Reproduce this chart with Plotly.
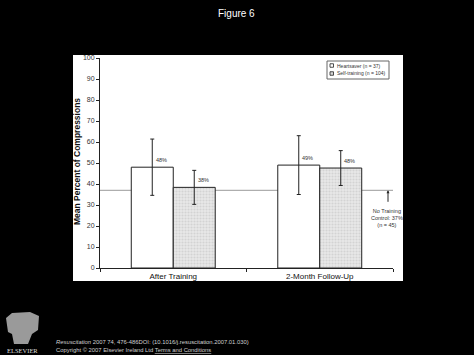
import plotly.graph_objects as go

# ---- data ----
categories = ["After Training", "2-Month Follow-Up"]
series_names = ["Heartsaver (n = 37)", "Self-training (n = 104)"]
heartsaver = [48, 49]
heartsaver_err = [13.4, 14.0]
self_training = [38.4, 47.6]
self_training_err = [8.1, 8.3]
bar_labels_hs = ["48%", "49%"]
bar_labels_st = ["38%", "48%"]
control_value = 37
control_text = "No Training<br>Control: 37%<br>(n = 45)"
y_ticks = list(range(0, 101, 10))

W, H = 474, 355
L, R, T, B = 100, 393, 58, 268  # plot area in pixels


def px(x):
    return (x - L) / (R - L)


def py(y):
    return (B - y) / (B - T)


FONT = "Liberation Sans, Arial, sans-serif"

fig = go.Figure()
fig.add_trace(go.Bar(
    x=categories, y=heartsaver, name=series_names[0],
    marker=dict(color="white", line=dict(color="#222", width=1)),
    error_y=dict(type="data", array=heartsaver_err, color="#222", thickness=1, width=2),
    showlegend=False,
))
fig.add_trace(go.Bar(
    x=categories, y=self_training, name=series_names[1],
    marker=dict(color="#e2e2e2", line=dict(color="#222", width=1),
                pattern=dict(shape=".", fgcolor="#bdbdbd", bgcolor="#e8e8e8", size=3, solidity=0.4)),
    error_y=dict(type="data", array=self_training_err, color="#222", thickness=1, width=2),
    showlegend=False,
))

shapes = []
annotations = []


def note(x, y, text, size, color="#333", xanchor="center", family=FONT, **kw):
    d = dict(xref="paper", yref="paper", x=x, y=y, text=text, showarrow=False,
             xanchor=xanchor, yanchor="middle",
             font=dict(size=size, color=color, family=family))
    d.update(kw)
    annotations.append(d)


# white panel
shapes.append(dict(type="rect", xref="paper", yref="paper", layer="below",
                   x0=px(73), x1=px(403), y0=py(281), y1=py(55),
                   fillcolor="white", line=dict(width=0)))
# control line
shapes.append(dict(type="line", xref="paper", yref="y", x0=0, x1=1,
                   y0=control_value, y1=control_value,
                   line=dict(color="#9a9a9a", width=1), layer="below"))

# bar labels
for cat, lab, v in zip(categories, bar_labels_hs, heartsaver):
    annotations.append(dict(x=cat, y=v, text=lab, showarrow=False, xshift=-12, yshift=7,
                            xanchor="center", yanchor="middle",
                            font=dict(size=5.5, color="#333", family=FONT)))
for cat, lab, v in zip(categories, bar_labels_st, self_training):
    annotations.append(dict(x=cat, y=v, text=lab, showarrow=False, xshift=30, yshift=7,
                            xanchor="center", yanchor="middle",
                            font=dict(size=5.5, color="#333", family=FONT)))

# arrow and control text
annotations.append(dict(xref="paper", yref="y", x=px(388), y=control_value, text="",
                        showarrow=True, ax=0, ay=13, arrowhead=2, arrowsize=0.6,
                        arrowwidth=1, arrowcolor="#222"))
note(px(387), py(217.5), control_text, 5.5, align="center")

# y-axis title
note(px(77), py(162), "<b>Mean Percent of Compressions</b>", 8.5, color="#111", textangle=-90)

# legend (manual)
shapes.append(dict(type="rect", xref="paper", yref="paper", x0=px(327), x1=px(389),
                   y0=py(79), y1=py(61), line=dict(color="#666", width=1), fillcolor="white"))
leg_rows = [(65.5, "white"), (73.5, "#d8d8d8")]
for (yy, col), name in zip(leg_rows, series_names):
    shapes.append(dict(type="rect", xref="paper", yref="paper", x0=px(330), x1=px(333.5),
                       y0=py(yy + 1.75), y1=py(yy - 1.75), line=dict(color="#222", width=0.8),
                       fillcolor=col))
    note(px(335), py(yy), name, 5, xanchor="left")

# Figure title
note(px(236), py(13), "Figure 6", 10, color="white")

# footer
note(px(54), py(342), "<i>Resuscitation</i> 2007 74, 476-486DOI: (10.1016/j.resuscitation.2007.01.030)",
     5.85, color="#d0d0d0", xanchor="left")
note(px(54), py(349.5), "Copyright © 2007 Elsevier Ireland Ltd <u>Terms and Conditions</u>",
     5.85, color="#d0d0d0", xanchor="left")

# Elsevier logo (approximation)
shapes.append(dict(type="path", xref="paper", yref="paper",
                   path=f"M {px(8)},{py(332)} L {px(6)},{py(318)} L {px(12)},{py(313)} L {px(30)},{py(312)} "
                        f"L {px(39)},{py(316)} L {px(38)},{py(330)} L {px(32)},{py(334)} L {px(28)},{py(344)} "
                        f"L {px(14)},{py(344)} L {px(12)},{py(334)} Z",
                   fillcolor="#9a9a9a", line=dict(width=0)))
note(px(22), py(350), "ELSEVIER", 6.5, color="#dddddd",
     family="Liberation Serif, Times New Roman, serif")

fig.update_layout(
    width=W, height=H,
    margin=dict(l=L, r=W - R, t=T, b=H - B, pad=0),
    paper_bgcolor="black", plot_bgcolor="white",
    barmode="group", bargap=0.427, bargroupgap=0,
    shapes=shapes, annotations=annotations,
    showlegend=False,
    xaxis=dict(type="category", showline=True, linecolor="#222", linewidth=1,
               ticks="outside", tickson="boundaries", ticklen=3, tickcolor="#222",
               tickfont=dict(size=8, color="#111", family=FONT), showgrid=False,
               zeroline=False, fixedrange=True),
    yaxis=dict(range=[0, 100], tickvals=y_ticks, showline=True, linecolor="#222",
               linewidth=1, ticks="outside", ticklen=3, tickcolor="#222",
               tickfont=dict(size=7, color="#333", family=FONT), showgrid=False,
               zeroline=False, fixedrange=True),
)

fig.write_html("out.html", config={"displayModeBar": False},
               post_script="document.body.style.margin='0';document.body.style.background='black';")
